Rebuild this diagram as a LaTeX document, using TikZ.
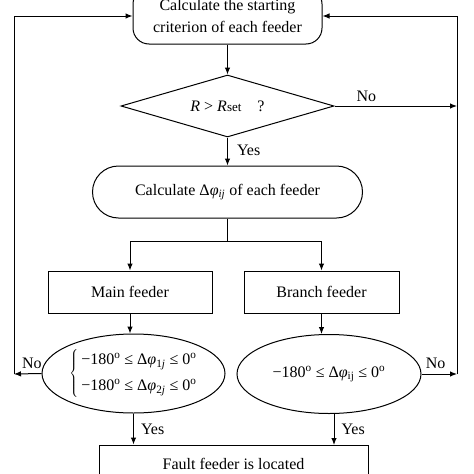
\documentclass[tikz,border=0pt]{standalone}
\usepackage{fontspec}
\setmainfont{Liberation Serif}
\usetikzlibrary{shapes.geometric,arrows.meta}
\newcommand{\dphi}[1]{Δ\textit{φ}\textsubscript{#1}}
\newcommand{\dg}{\textsuperscript{o}}
\begin{document}
\begin{tikzpicture}[x=1pt,y=-1pt,
  every node/.style={font=\fontsize{16}{22}\selectfont},
  line/.style={line width=1pt},
  arr/.style={line width=1pt,-{Latex[length=7pt,width=5.5pt]}},
  box/.style={draw,line width=1pt,inner sep=0pt,align=center},
  lbl/.style={inner sep=0pt}]
\useasboundingbox (0,0) rectangle (474,474);
% nodes
\node[box,rounded corners=16pt,minimum width=189pt,minimum height=56pt] (start) at (227.5,16) {Calculate the starting\\criterion of each feeder};
\node[box,diamond,aspect=3.4,minimum width=213pt,minimum height=62pt] (dia) at (227.5,106) {\textit{R} > \textit{R}{\fontsize{13}{13}\selectfont set}\quad ?};
\node[box,rounded corners=26pt,minimum width=270pt,minimum height=52pt] (calc) at (227.5,192) {Calculate \dphi{\textit{ij}} of each feeder};
\coordinate (jn) at (227.5,241);
\node[box,minimum width=164pt,minimum height=42pt] (main) at (130,292) {Main feeder};
\node[box,minimum width=155pt,minimum height=42pt] (branch) at (321.5,292) {Branch feeder};
\node[box,ellipse,minimum width=183pt,minimum height=79pt] (le) at (133.5,373.5) {$\left\{\begin{array}{@{\hspace{3pt}}l@{}}\mbox{−180\dg{} ≤ \dphi{1\textit{j}} ≤ 0\dg}\\[4pt] \mbox{−180\dg{} ≤ \dphi{2\textit{j}} ≤ 0\dg}\end{array}\right.$};
\node[box,ellipse,minimum width=184pt,minimum height=79pt] (re) at (329,374) {−180\dg{} ≤ \dphi{ij} ≤ 0\dg};
\node[box,minimum width=269pt,minimum height=44pt] (fault) at (233.5,467) {};
\node[lbl] (ftext) at (233.5,464) {Fault feeder is located};
\coordinate (lc) at (14,374);
\coordinate (rc) at (457,374);
\coordinate (rn) at (457,106);
% connectors
\draw[arr] (start.south) -- (dia.north);
\draw[arr] (dia.south) -- (calc.north) node[lbl,pos=0.45,right=9pt] {Yes};
\draw[arr] (dia.east) -- (rn) node[lbl,pos=0.26,above=4pt] {No};
\draw[line] (calc.south) -- (jn);
\draw[arr] (jn) -| (main.north);
\draw[arr] (jn) -| (branch.north);
\draw[arr] (main.south) -- (main.south |- le.north);
\draw[arr] (branch.south) -- (branch.south |- re.north);
\draw[arr] (le.west) -- (lc) node[lbl,pos=0.35,above=5pt] {No};
\draw[arr] (lc) |- (start.west);
\draw[arr] (re.east) -- (rc) node[lbl,pos=0.4,above=5pt] {No};
\draw[arr] (rn) |- (start.east);
\draw[line] (rc) -- (rn);
\draw[arr] (le.south) -- (le.south |- fault.north) node[lbl,midway,right=7pt] {Yes};
\draw[arr] (334,413) -- (334,445) node[lbl,midway,right=7pt] {Yes};
\end{tikzpicture}
\end{document}
